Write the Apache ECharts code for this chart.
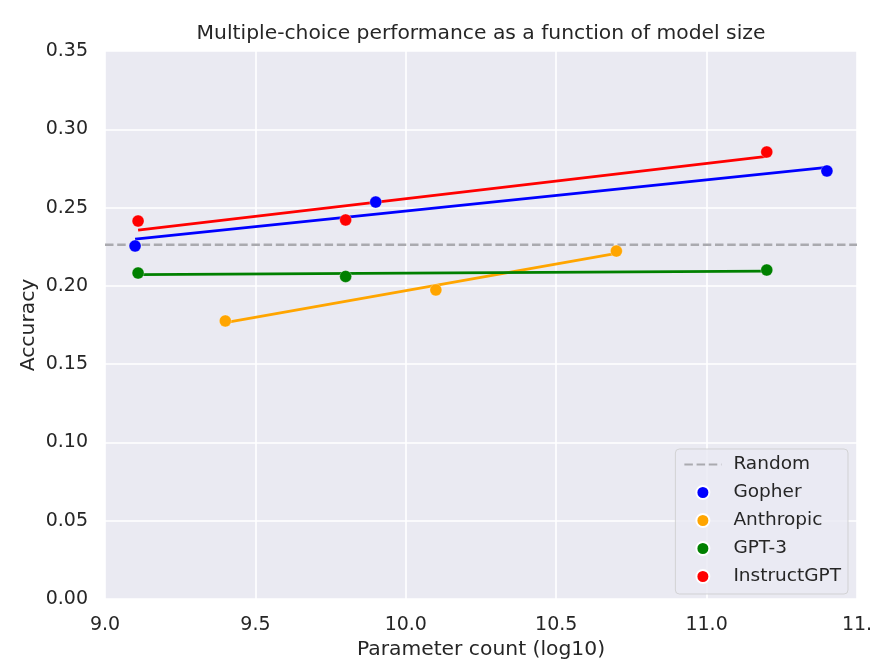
<!DOCTYPE html>
<html lang="en">
<head>
  <meta charset="UTF-8">
  <title>Multiple-choice performance</title>
  <style>
    * { margin: 0; padding: 0; }
    body { background: #ffffff; }
    #chart { width: 880px; height: 671px; }
  </style>
</head>
<body>
  <div id="chart"></div>

  <script src="https://cdn.jsdelivr.net/npm/echarts@6/dist/echarts.min.js"></script>
  <script type="text/javascript">
  // accuracy vs log10 parameter count
  var randomY = 0.2263;
  var randomX = [9.0, 11.5];

  var gopherX = [9.1, 9.9, 11.4];
  var gopherY = [0.2255, 0.2535, 0.2734];
  var gopherFitX = [9.1, 11.4];
  var gopherFitY = [0.2299, 0.2757];

  var anthropicX = [9.4, 10.1, 10.7];
  var anthropicY = [0.1776, 0.1974, 0.2222];
  var anthropicFitX = [9.4, 10.7];
  var anthropicFitY = [0.1765, 0.2207];

  var gpt3X = [9.11, 9.8, 11.2];
  var gpt3Y = [0.2082, 0.2060, 0.2101];
  var gpt3FitX = [9.11, 11.2];
  var gpt3FitY = [0.2072, 0.2094];

  var instructX = [9.11, 9.8, 11.2];
  var instructY = [0.2414, 0.2421, 0.2855];
  var instructFitX = [9.11, 11.2];
  var instructFitY = [0.2356, 0.2827];

  var legendNames = ['Random', 'Gopher', 'Anthropic', 'GPT-3', 'InstructGPT'];

  var FONT = '"DejaVu Sans", sans-serif';
  var INK = '#262626';

  function pairs (xs, ys) {
    return xs.map(function (x, i) { return [x, ys[i]]; });
  }

  function dots (name, color, xs, ys) {
    return {
      name: name,
      type: 'scatter',
      z: 5,
      symbolSize: 12,
      itemStyle: { color: color, borderColor: '#ffffff', borderWidth: 0.3, opacity: 1 },
      data: pairs(xs, ys)
    };
  }

  function fit (name, color, xs, ys) {
    return {
      name: name,
      type: 'line',
      z: 3,
      symbol: 'none',
      silent: true,
      lineStyle: { color: color, width: 2.7 },
      data: pairs(xs, ys)
    };
  }

  function main () {
    var chart = echarts.init(document.getElementById('chart'));
    var option = {
      animation: false,
      backgroundColor: '#ffffff',
      textStyle: { fontFamily: FONT, color: INK },
      title: {
        text: 'Multiple-choice performance as a function of model size',
        left: 476,
        top: 19,
        textAlign: 'center',
        textStyle: { fontFamily: FONT, fontSize: 20.3, fontWeight: 'normal', color: INK }
      },
      grid: {
        left: 105, right: 23, top: 51, bottom: 72,
        show: true, backgroundColor: '#eaeaf2', borderWidth: 0
      },
      legend: {
        data: [
          { name: 'Random', itemStyle: { color: 'rgba(0,0,0,0)', borderWidth: 0 } },
          legendNames[1], legendNames[2], legendNames[3], legendNames[4]
        ],
        orient: 'vertical',
        right: 32,
        top: 449,
        padding: [6, 7, 8, 8],
        itemGap: 9,
        itemWidth: 37,
        itemHeight: 13,
        backgroundColor: 'rgba(234,234,242,0.8)',
        borderColor: 'rgba(204,204,204,0.8)',
        borderWidth: 1,
        borderRadius: 4,
        textStyle: { fontFamily: FONT, fontSize: 18.5, color: INK, lineHeight: 18.5, padding: [0, 0, 0, 7] }
      },
      xAxis: {
        type: 'value',
        min: 9.0,
        max: 11.5,
        interval: 0.5,
        name: 'Parameter count (log10)',
        nameLocation: 'middle',
        nameGap: 40,
        nameTextStyle: { fontFamily: FONT, fontSize: 20.3, color: INK },
        axisLine: { show: false },
        axisTick: { show: false },
        axisLabel: {
          margin: 17,
          fontFamily: FONT, fontSize: 19, color: INK,
          // the last label is cut off at the figure edge in the original
          formatter: function (v) { return v === 11.5 ? '11.' : v.toFixed(1); }
        },
        splitLine: { lineStyle: { color: '#ffffff', width: 1.6 } }
      },
      yAxis: {
        type: 'value',
        min: 0,
        max: 0.35,
        interval: 0.05,
        name: 'Accuracy',
        nameLocation: 'middle',
        nameMoveOverlap: false,
        nameGap: 66,
        nameTextStyle: { fontFamily: FONT, fontSize: 20.3, color: INK },
        axisLine: { show: false },
        axisTick: { show: false },
        axisLabel: {
          margin: 17,
          fontFamily: FONT, fontSize: 19, color: INK,
          formatter: function (v) { return v.toFixed(2); }
        },
        splitLine: { lineStyle: { color: '#ffffff', width: 1.6 } }
      },
      series: [
        {
          name: 'Random',
          type: 'line',
          z: 2,
          symbol: 'none',
          silent: true,
          lineStyle: { color: '#aaaaaf', width: 2.6, type: [8.5, 3.7] },
          data: pairs(randomX, [randomY, randomY])
        },
        dots('Gopher', '#0000ff', gopherX, gopherY),
        fit('Gopher fit', '#0000ff', gopherFitX, gopherFitY),
        dots('Anthropic', '#ffa500', anthropicX, anthropicY),
        fit('Anthropic fit', '#ffa500', anthropicFitX, anthropicFitY),
        dots('GPT-3', '#008000', gpt3X, gpt3Y),
        fit('GPT-3 fit', '#008000', gpt3FitX, gpt3FitY),
        dots('InstructGPT', '#ff0000', instructX, instructY),
        fit('InstructGPT fit', '#ff0000', instructFitX, instructFitY)
      ]
    };
    chart.setOption(option);
  }

  window.addEventListener('load', main);
  </script>
</body>
</html>
